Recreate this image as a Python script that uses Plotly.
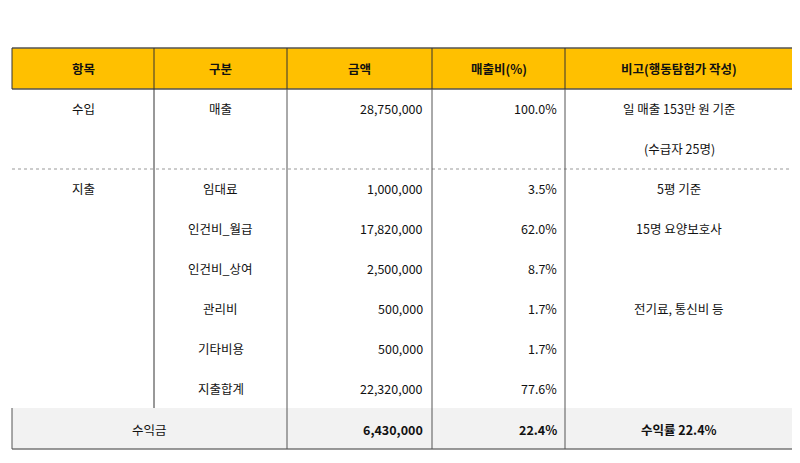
import plotly.graph_objects as go

headers = ["항목", "구분", "금액", "매출비(%)", "비고(행동탐험가 작성)"]
groups = ["수입", "", "지출", "", "", "", "", ""]
items = ["매출", "", "임대료", "인건비_월급", "인건비_상여", "관리비", "기타비용", "지출합계"]
amounts = ["28,750,000", "", "1,000,000", "17,820,000", "2,500,000", "500,000", "500,000", "22,320,000"]
ratios = ["100.0%", "", "3.5%", "62.0%", "8.7%", "1.7%", "1.7%", "77.6%"]
notes = ["일 매출 153만 원 기준", "(수급자 25명)", "5평 기준", "15명 요양보호사", "", "전기료, 통신비 등", "", ""]
total_label = "수익금"
total_amount = "6,430,000"
total_ratio = "22.4%"
total_note = "수익률 22.4%"
unit_text = "[ 단위 : 원 ]"

cols = [12, 154, 287, 432, 565, 793]
hdr_top, hdr_bot = 48, 89
row_h = 40
first_y = 108
gray_top, gray_bot = 408, 449
FONT = "Noto Sans CJK KR"

fig = go.Figure()
fig.add_trace(go.Scatter(x=[8, 792], y=[8, 455], mode="markers", marker=dict(opacity=0), hoverinfo="skip", showlegend=False))
shapes = []
ann = []
shapes.append(dict(type="rect", x0=cols[0], x1=cols[-1], y0=hdr_top, y1=hdr_bot, fillcolor="#FFC000", line=dict(width=0), layer="below"))
shapes.append(dict(type="rect", x0=cols[0], x1=cols[-1], y0=gray_top, y1=gray_bot, fillcolor="#F2F2F2", line=dict(width=0), layer="below"))
for yy in (hdr_top, hdr_bot):
    shapes.append(dict(type="line", x0=cols[0], x1=cols[-1], y0=yy, y1=yy, line=dict(color="#555", width=1.5)))
shapes.append(dict(type="line", x0=cols[0], x1=cols[-1], y0=gray_bot, y1=gray_bot, line=dict(color="#777", width=1.5)))
shapes.append(dict(type="line", x0=cols[0], x1=cols[-1], y0=169, y1=169, line=dict(color="#999", width=1, dash="dot")))
for x in cols:
    shapes.append(dict(type="line", x0=x, x1=x, y0=hdr_top, y1=hdr_bot, line=dict(color="#333", width=1)))
for x in (cols[0], cols[-1]):
    shapes.append(dict(type="line", x0=x, x1=x, y0=gray_top, y1=gray_bot, line=dict(color="#555", width=1)))
shapes.append(dict(type="line", x0=cols[1], x1=cols[1], y0=hdr_bot, y1=gray_top, line=dict(color="#333", width=1)))
for x in cols[2:5]:
    shapes.append(dict(type="line", x0=x, x1=x, y0=hdr_bot, y1=gray_bot, line=dict(color="#555", width=1)))

def A(x, y, t, anchor="center", bold=False):
    ann.append(dict(x=x, y=y, text=("<b>%s</b>" % t) if bold else t, showarrow=False, xanchor=anchor, yanchor="middle",
                    font=dict(family=FONT, size=12.5, color="#111")))

for i, h in enumerate(headers):
    A((cols[i] + cols[i + 1]) / 2, (hdr_top + hdr_bot) / 2, h, bold=True)
for i in range(len(items)):
    y = first_y + row_h * i
    if groups[i]: A((cols[0] + cols[1]) / 2, y, groups[i])
    if items[i]: A((cols[1] + cols[2]) / 2, y, items[i])
    if amounts[i]: A(cols[3] - 7, y, amounts[i], "right")
    if ratios[i]: A(cols[4] - 6, y, ratios[i], "right")
    if notes[i]: A((cols[4] + cols[5]) / 2, y, notes[i])
gy = (gray_top + gray_bot) / 2 + 1
A((cols[0] + cols[2]) / 2, gy, total_label)
A(cols[3] - 7, gy, total_amount, "right", True)
A(cols[4] - 6, gy, total_ratio, "right", True)
A((cols[4] + cols[5]) / 2, gy, total_note, bold=True)
A(793, 30, unit_text, "right")

fig.update_layout(width=784, height=447, margin=dict(l=0, r=0, t=0, b=0), plot_bgcolor="white", paper_bgcolor="white",
                  xaxis=dict(range=[8, 792], visible=False, fixedrange=True),
                  yaxis=dict(range=[455, 8], visible=False, fixedrange=True),
                  shapes=shapes, annotations=ann, showlegend=False)
fig.write_html("out.html")
